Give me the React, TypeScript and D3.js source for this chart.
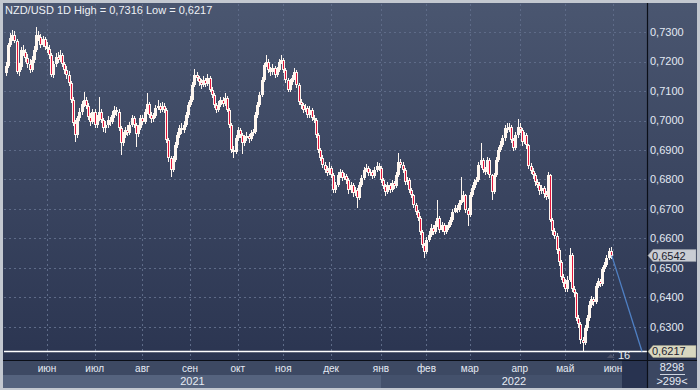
import React from "react";
import * as d3 from "d3";

// NZD/USD daily candles, 5 May 2021 .. 31 May 2022, prices in pips (x 0.0001)
const opens = [
  7160, 7185, 7255, 7280, 7290, 7270, 7165, 7180, 7240, 7232, 7212, 7190, 7172, 7205, 7240, 7290, 7282, 7255, 7275, 7250,
  7242, 7222, 7155, 7190, 7215, 7205, 7222, 7190, 7170, 7155, 7127, 7070, 6990, 6950, 7008, 7030, 7055, 7068, 7050, 7012,
  6995, 7030, 6985, 7008, 7030, 7002, 6975, 6985, 7002, 6995, 7020, 7036, 7030, 6975, 6925, 6950, 6968, 6958, 6985, 7008,
  6985, 6955, 6975, 7008, 6995, 7030, 7055, 7018, 7005, 7015, 7042, 7050, 7036, 7050, 7036, 6934, 6873, 6832, 6866, 6917,
  6950, 6975, 6968, 6985, 7018, 7052, 7069, 7120, 7154, 7144, 7130, 7120, 7137, 7124, 7144, 7103, 7086, 7052, 7036, 7052,
  7069, 7055, 7076, 7036, 6985, 6900, 6893, 6940, 6968, 6950, 6924, 6940, 6947, 6937, 6958, 6961, 7018, 7052, 7086, 7137,
  7188, 7198, 7171, 7164, 7178, 7154, 7171, 7198, 7205, 7171, 7137, 7103, 7130, 7144, 7164, 7120, 7062, 7052, 7036, 7042,
  7018, 7036, 7008, 7002, 6950, 6900, 6873, 6849, 6832, 6822, 6839, 6815, 6764, 6781, 6815, 6825, 6805, 6812, 6798, 6764,
  6781, 6754, 6764, 6737, 6781, 6805, 6832, 6839, 6822, 6825, 6812, 6832, 6846, 6839, 6798, 6778, 6757, 6781, 6764, 6788,
  6778, 6815, 6859, 6849, 6832, 6791, 6798, 6764, 6747, 6713, 6690, 6669, 6622, 6578, 6554, 6595, 6612, 6636, 6622, 6646,
  6669, 6629, 6646, 6622, 6636, 6646, 6663, 6690, 6703, 6697, 6720, 6730, 6747, 6697, 6680, 6747, 6771, 6791, 6798, 6849,
  6866, 6832, 6825, 6866, 6815, 6757, 6815, 6866, 6900, 6917, 6940, 6975, 6968, 6978, 6934, 6907, 6950, 6978, 6968, 6927,
  6950, 6917, 6845, 6830, 6815, 6790, 6781, 6760, 6770, 6750, 6740, 6815, 6663, 6625, 6610, 6560, 6520, 6470, 6450, 6430,
  6460, 6544, 6430, 6415, 6330, 6310, 6255, 6245, 6295, 6330, 6375, 6395, 6385, 6440, 6455, 6445, 6495, 6510, 6535, 6558,
];
const highs = [
  7200, 7262, 7298, 7307, 7302, 7278, 7196, 7250, 7255, 7244, 7225, 7208, 7218, 7252, 7316, 7305, 7292, 7288, 7282, 7265,
  7255, 7230, 7202, 7228, 7232, 7238, 7230, 7200, 7185, 7168, 7135, 7078, 7002, 7015, 7042, 7066, 7096, 7078, 7058, 7025,
  7040, 7038, 7018, 7078, 7040, 7010, 7000, 7015, 7012, 7032, 7048, 7045, 7038, 6982, 6962, 6978, 6985, 6995, 7020, 7015,
  6992, 6985, 7018, 7020, 7040, 7093, 7062, 7028, 7026, 7052, 7069, 7058, 7062, 7058, 7042, 6940, 6880, 6878, 6928, 6962,
  6985, 6992, 6998, 7030, 7062, 7082, 7132, 7175, 7165, 7152, 7140, 7150, 7145, 7156, 7150, 7112, 7092, 7060, 7065, 7080,
  7078, 7093, 7082, 7042, 6992, 6912, 6950, 6978, 6975, 6958, 6950, 6960, 6955, 6968, 6972, 7028, 7062, 7096, 7146, 7196,
  7222, 7210, 7182, 7190, 7185, 7182, 7208, 7222, 7212, 7178, 7145, 7140, 7155, 7178, 7170, 7126, 7072, 7060, 7055, 7050,
  7048, 7042, 7018, 7008, 6958, 6908, 6882, 6858, 6845, 6858, 6845, 6822, 6792, 6826, 6836, 6832, 6822, 6820, 6805, 6792,
  6788, 6775, 6770, 6790, 6815, 6842, 6852, 6845, 6836, 6832, 6842, 6858, 6855, 6845, 6805, 6785, 6790, 6788, 6798, 6795,
  6825, 6890, 6868, 6858, 6838, 6810, 6805, 6772, 6752, 6720, 6698, 6675, 6628, 6585, 6605, 6625, 6648, 6645, 6658, 6730,
  6675, 6656, 6652, 6645, 6655, 6672, 6700, 6715, 6712, 6730, 6808, 6760, 6752, 6705, 6756, 6782, 6802, 6810, 6858, 6924,
  6872, 6842, 6875, 6872, 6820, 6822, 6875, 6910, 6930, 6952, 6985, 6992, 6990, 6985, 6940, 6960, 7005, 6990, 6975, 6962,
  6958, 6922, 6855, 6840, 6822, 6802, 6790, 6782, 6778, 6762, 6825, 6820, 6670, 6635, 6618, 6568, 6528, 6478, 6462, 6472,
  6568, 6550, 6440, 6420, 6342, 6318, 6265, 6305, 6340, 6388, 6405, 6402, 6450, 6465, 6462, 6505, 6520, 6545, 6568, 6570,
];
const lows = [
  7150, 7178, 7248, 7268, 7262, 7158, 7150, 7172, 7220, 7198, 7178, 7160, 7165, 7196, 7232, 7268, 7246, 7248, 7240, 7230,
  7210, 7148, 7145, 7182, 7195, 7198, 7180, 7158, 7142, 7118, 7060, 6980, 6927, 6942, 6998, 7020, 7045, 7040, 7002, 6982,
  6988, 6975, 6975, 7000, 6990, 6962, 6958, 6975, 6980, 6988, 7010, 7015, 6966, 6883, 6915, 6940, 6948, 6950, 6978, 6975,
  6910, 6945, 6968, 6985, 6988, 7022, 7008, 6992, 6995, 7008, 7035, 7025, 7030, 7025, 6925, 6860, 6808, 6825, 6858, 6908,
  6942, 6955, 6958, 6978, 7010, 7045, 7062, 7112, 7135, 7118, 7108, 7112, 7115, 7118, 7095, 7075, 7042, 7025, 7028, 7045,
  7045, 7048, 7028, 6975, 6890, 6873, 6885, 6932, 6940, 6885, 6915, 6932, 6925, 6930, 6948, 6955, 7010, 7045, 7080, 7130,
  7180, 7162, 7152, 7155, 7145, 7146, 7165, 7190, 7162, 7128, 7095, 7098, 7122, 7138, 7110, 7052, 7040, 7025, 7028, 7008,
  7010, 6998, 6992, 6940, 6890, 6862, 6838, 6822, 6812, 6815, 6805, 6755, 6755, 6775, 6806, 6795, 6798, 6786, 6752, 6755,
  6742, 6745, 6703, 6730, 6775, 6798, 6825, 6812, 6812, 6802, 6805, 6825, 6828, 6788, 6768, 6745, 6750, 6755, 6758, 6768,
  6772, 6808, 6840, 6822, 6782, 6780, 6755, 6736, 6702, 6680, 6658, 6612, 6568, 6534, 6548, 6588, 6605, 6612, 6615, 6640,
  6620, 6622, 6612, 6615, 6628, 6640, 6655, 6685, 6688, 6690, 6712, 6722, 6688, 6642, 6672, 6740, 6765, 6782, 6792, 6840,
  6822, 6815, 6818, 6805, 6730, 6750, 6808, 6858, 6892, 6910, 6932, 6958, 6960, 6925, 6896, 6900, 6942, 6958, 6915, 6920,
  6905, 6835, 6818, 6802, 6778, 6770, 6748, 6752, 6738, 6730, 6735, 6655, 6612, 6598, 6548, 6508, 6458, 6436, 6418, 6420,
  6452, 6420, 6400, 6320, 6295, 6242, 6217, 6238, 6285, 6320, 6365, 6372, 6378, 6432, 6435, 6438, 6488, 6502, 6528, 6532,
];
const closes = [
  7185, 7255, 7280, 7290, 7270, 7165, 7180, 7240, 7232, 7212, 7190, 7172, 7205, 7240, 7290, 7282, 7255, 7275, 7250, 7242,
  7222, 7155, 7190, 7215, 7205, 7222, 7190, 7170, 7155, 7127, 7070, 6990, 6950, 7008, 7030, 7055, 7068, 7050, 7012, 6995,
  7030, 6985, 7008, 7030, 7002, 6975, 6985, 7002, 6995, 7020, 7036, 7030, 6975, 6925, 6950, 6968, 6958, 6985, 7008, 6985,
  6955, 6975, 7008, 6995, 7030, 7055, 7018, 7005, 7015, 7042, 7050, 7036, 7050, 7036, 6934, 6873, 6832, 6866, 6917, 6950,
  6975, 6968, 6985, 7018, 7052, 7069, 7120, 7154, 7144, 7130, 7120, 7137, 7124, 7144, 7103, 7086, 7052, 7036, 7052, 7069,
  7055, 7076, 7036, 6985, 6900, 6893, 6940, 6968, 6950, 6924, 6940, 6947, 6937, 6958, 6961, 7018, 7052, 7086, 7137, 7188,
  7198, 7171, 7164, 7178, 7154, 7171, 7198, 7205, 7171, 7137, 7103, 7130, 7144, 7164, 7120, 7062, 7052, 7036, 7042, 7018,
  7036, 7008, 7002, 6950, 6900, 6873, 6849, 6832, 6822, 6839, 6815, 6764, 6781, 6815, 6825, 6805, 6812, 6798, 6764, 6781,
  6754, 6764, 6737, 6781, 6805, 6832, 6839, 6822, 6825, 6812, 6832, 6846, 6839, 6798, 6778, 6757, 6781, 6764, 6788, 6778,
  6815, 6859, 6849, 6832, 6791, 6798, 6764, 6747, 6713, 6690, 6669, 6622, 6578, 6554, 6595, 6612, 6636, 6622, 6646, 6669,
  6629, 6646, 6622, 6636, 6646, 6663, 6690, 6703, 6697, 6720, 6730, 6747, 6697, 6680, 6747, 6771, 6791, 6798, 6849, 6866,
  6832, 6825, 6866, 6815, 6757, 6815, 6866, 6900, 6917, 6940, 6975, 6968, 6978, 6934, 6907, 6950, 6978, 6968, 6927, 6950,
  6917, 6845, 6830, 6815, 6790, 6781, 6760, 6770, 6750, 6740, 6815, 6663, 6625, 6610, 6560, 6520, 6470, 6450, 6430, 6460,
  6544, 6430, 6415, 6330, 6310, 6255, 6245, 6295, 6330, 6375, 6395, 6385, 6440, 6455, 6445, 6495, 6510, 6535, 6558, 6542,
];

const yTicks = [0.63, 0.64, 0.65, 0.66, 0.67, 0.68, 0.69, 0.7, 0.71, 0.72, 0.73];
const monthNames = ["янв", "фев", "мар", "апр", "май", "июн", "июл", "авг", "сен", "окт", "ноя", "дек"];
const firstDay = new Date(2021, 4, 5);
const projectionEnd = { index: 293.4, price: 0.6217 };
const barCounter = "16";
const volumeTop = "8298";
const volumeBottom = ">299<";

const W = 700;
const H = 390;
const plot = { left: 4, right: 647, top: 4, bottom: 360 };
const font = "'Liberation Sans', Arial, sans-serif";

function fmt(v: number) {
  return v.toFixed(4).replace(".", ",");
}

export default function App() {
  // trading days (weekdays), one extra slot after the last candle
  const days: Date[] = [];
  const d = new Date(firstDay);
  while (days.length < closes.length + 1) {
    if (d.getDay() !== 0 && d.getDay() !== 6) days.push(new Date(d));
    d.setDate(d.getDate() + 1);
  }

  const x = d3.scaleLinear().domain([-0.8, 295.7]).range([plot.left, plot.right]);
  const y = d3.scaleLinear().domain([0.6188, 0.7395]).range([plot.bottom, plot.top]);

  const candles = closes.map((c, i) => ({
    i,
    o: opens[i] / 10000,
    h: highs[i] / 10000,
    l: lows[i] / 10000,
    c: c / 10000,
  }));

  const monthTicks: { i: number; label: string; month: number }[] = [];
  for (let i = 1; i < days.length; i++) {
    if (days[i].getMonth() !== days[i - 1].getMonth()) {
      monthTicks.push({ i, label: monthNames[days[i].getMonth()], month: days[i].getMonth() });
    }
  }
  const janTick = monthTicks.find((t) => t.month === 0)!;
  const janX = Math.round(x(janTick.i));

  const hiVal = d3.max(candles, (k) => k.h)!;
  const loVal = d3.min(candles, (k) => k.l)!;
  const last = candles[candles.length - 1];
  const yLo = Math.round(y(loVal)) + 0.5;
  const yLast = y(last.c);

  return (
    <div style={{ position: "fixed", left: 0, top: 0 }}>
      <svg width={W} height={H} style={{ display: "block", fontFamily: font }}>
        <defs>
          <linearGradient id="bg" x1="0" y1="0" x2="0" y2="1">
            <stop offset="0" stopColor="#4a5670" />
            <stop offset="1" stopColor="#2b3551" />
          </linearGradient>
        </defs>
        {/* frame */}
        <rect x={0} y={0} width={W} height={H} fill="#c3c8d0" />
        <rect x={3} y={3} width={W - 6} height={plot.bottom - 3} fill="url(#bg)" />
        {/* bottom axis rows */}
        <rect x={3} y={plot.bottom} width={W - 6} height={15} fill="#3d4963" />
        <rect x={3} y={plot.bottom + 15} width={janX - 3} height={13} fill="#55637e" />
        <rect x={janX} y={plot.bottom + 15} width={plot.right - janX} height={13} fill="#44516c" />
        <rect x={622} y={plot.bottom + 1} width={plot.right - 622} height={27} fill="#283350" />
        <rect x={plot.right} y={plot.bottom} width={W - 3 - plot.right} height={28} fill="#3b4762" />

        {/* grid */}
        <g stroke="#5e6b88" strokeDasharray="2,3" strokeWidth={1}>
          {yTicks.map((t) => (
            <line key={t} x1={plot.left} x2={plot.right} y1={Math.round(y(t)) + 0.5} y2={Math.round(y(t)) + 0.5} />
          ))}
          {monthTicks.map((t) => (
            <line key={t.i} x1={Math.round(x(t.i)) + 0.5} x2={Math.round(x(t.i)) + 0.5} y1={plot.top} y2={plot.bottom} />
          ))}
        </g>

        {/* candles: white-red-white for falling days, solid white for rising */}
        <g shapeRendering="crispEdges">
          {candles.map((k) => {
            const px = Math.round(x(k.i));
            const top = Math.round(y(Math.max(k.o, k.c)));
            const bot = Math.round(y(Math.min(k.o, k.c)));
            const down = k.c < k.o;
            return (
              <g key={k.i}>
                <line x1={px + 0.5} x2={px + 0.5} y1={y(k.h)} y2={y(k.l)} stroke="#fff7f0" strokeWidth={1} />
                <rect x={px - 1} y={top} width={3} height={Math.max(1, bot - top)} fill="#fff7f0" />
                {down && bot - top > 2 && (
                  <rect x={px} y={top + 1} width={1} height={bot - top - 2} fill="#e2163c" />
                )}
              </g>
            );
          })}
        </g>

        {/* low line */}
        <line x1={plot.left} x2={plot.right} y1={yLo} y2={yLo} stroke="#ffffff" strokeWidth={1.5} />

        {/* projection */}
        <line
          x1={x(last.i) + 1}
          y1={yLast}
          x2={x(projectionEnd.index)}
          y2={y(projectionEnd.price)}
          stroke="#4f80c4"
          strokeWidth={1.3}
        />

        {/* bar counter */}
        <path d={`M${x(last.i) - 4},${plot.bottom - 2} l4,-4 l4,4 z`} fill="#4a5068" />
        <text x={618} y={plot.bottom - 1} fontSize={11} fill="#e8ecf4">
          {barCounter}
        </text>

        {/* borders */}
        <line x1={plot.right + 0.5} x2={plot.right + 0.5} y1={3} y2={H - 2} stroke="#0b0f18" strokeWidth={1.2} />
        <line x1={3} x2={W - 3} y1={plot.bottom + 0.5} y2={plot.bottom + 0.5} stroke="#0b0f18" strokeWidth={1.2} />

        {/* y axis labels */}
        {yTicks.map((t) => (
          <text key={t} x={650} y={y(t)} dy="0.35em" fontSize={11} fill="#e3e9f3">
            {fmt(t)}
          </text>
        ))}

        {/* price markers */}
        <path
          d={`M${plot.right + 1},${yLast} l5,-6 h43 v12 h-43 z`}
          fill="#c9cdd4"
          stroke="#9aa0aa"
          strokeWidth={0.5}
        />
        <text x={652} y={yLast} dy="0.36em" fontSize={11} fill="#1d2330">
          {fmt(last.c)}
        </text>
        <path
          d={`M${plot.right + 1},${yLo} l5,-6 h43 v12 h-43 z`}
          fill="#d9d8c0"
          stroke="#a09f88"
          strokeWidth={0.5}
        />
        <text x={652} y={yLo} dy="0.36em" fontSize={11} fill="#1d2330">
          {fmt(loVal)}
        </text>

        {/* month labels */}
        {monthTicks.map((t) => (
          <text key={t.i} x={x(t.i)} y={plot.bottom + 12} textAnchor="middle" fontSize={10} fill="#e6ebf4">
            {t.label}
          </text>
        ))}
        <text x={(plot.left + janX) / 2} y={plot.bottom + 25} textAnchor="middle" fontSize={11} fill="#e6ebf4">
          {days[0].getFullYear()}
        </text>
        <text x={(janX + plot.right) / 2} y={plot.bottom + 25} textAnchor="middle" fontSize={11} fill="#e6ebf4">
          {days[janTick.i].getFullYear()}
        </text>

        {/* volume box */}
        <text x={672} y={plot.bottom + 11} textAnchor="middle" fontSize={11} fill="#e6ebf4">
          {volumeTop}
        </text>
        <line x1={660} x2={685} y1={plot.bottom + 14.5} y2={plot.bottom + 14.5} stroke="#d0d6e0" strokeWidth={1} />
        <text x={672} y={plot.bottom + 25} textAnchor="middle" fontSize={11} fill="#e6ebf4">
          {volumeBottom}
        </text>

        {/* title */}
        <text x={5} y={14} fontSize={11} fill="#eef1f6">
          {`NZD/USD 1D High = ${fmt(hiVal)} Low = ${fmt(loVal)}`}
        </text>
      </svg>
    </div>
  );
}
